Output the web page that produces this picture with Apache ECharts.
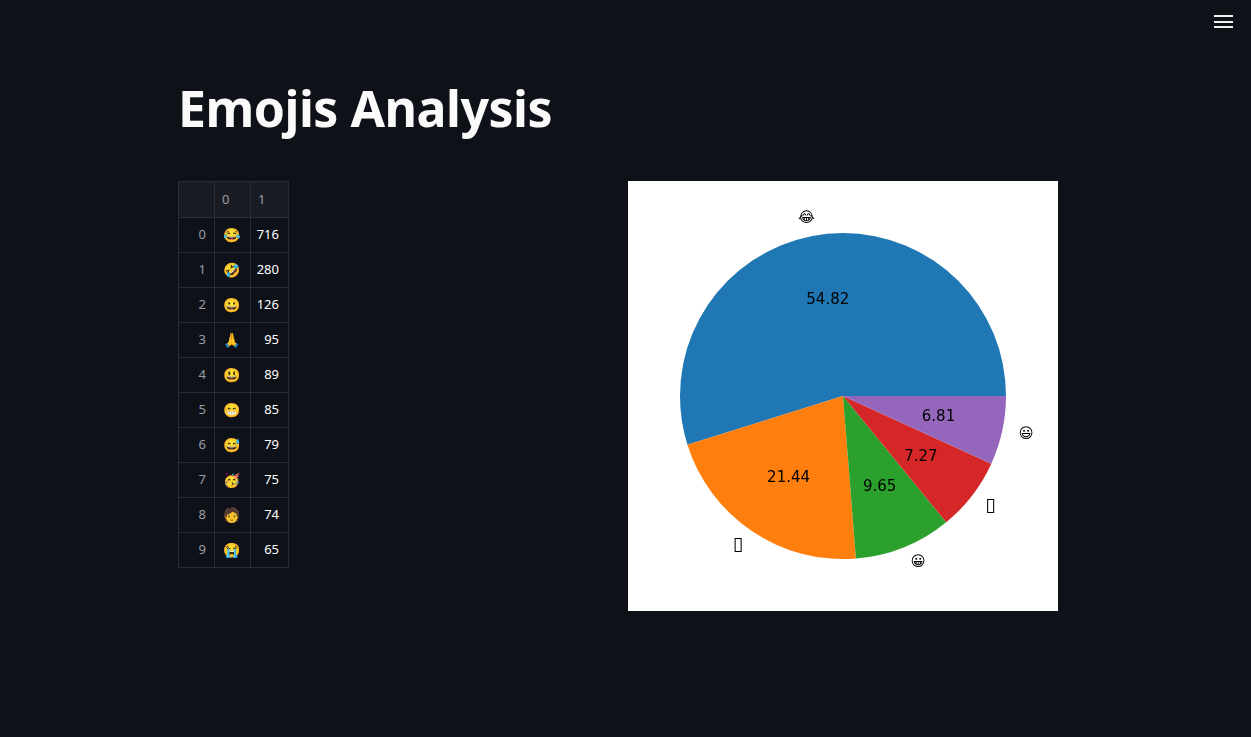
<!DOCTYPE html>
<html><head><meta charset="utf-8">
<script src="https://cdn.jsdelivr.net/npm/echarts@6/dist/echarts.min.js"></script>
<style>
html,body{margin:0;padding:0;background:#0e1117;width:1251px;height:737px;overflow:hidden}
h1{position:absolute;left:178px;top:72px;margin:0;color:#fafafa;font:700 50px/72px "Noto Sans",sans-serif;letter-spacing:-0.5px}
#menu{position:absolute;left:1214px;top:15px;width:19px}
#menu i{display:block;height:2px;background:#f0f0f0;margin-bottom:3.5px}
table{position:absolute;left:178px;top:181px;border-collapse:collapse;table-layout:fixed;width:110px;font:13px "Noto Sans","DejaVu Sans",sans-serif}
td,th{border:1px solid #2a2c33;padding:0;height:35px;box-sizing:border-box;font-weight:400}
th{height:36px;background:#1a1c24;color:#9a9da6;text-align:left;padding-left:7px;padding-bottom:2px}
td.i{color:#9a9da6;text-align:right;padding-right:8px;padding-bottom:3px}
td.e{text-align:center;font-size:14px;font-family:"Noto Color Emoji",sans-serif;padding-bottom:1px}
td.v{color:#fff;text-align:right;padding-right:9px;padding-bottom:3px}
#pie{position:absolute;left:628px;top:181px;width:430px;height:430px;background:#fff}
</style></head><body>
<h1>Emojis Analysis</h1>
<div id="menu"><i></i><i></i><i></i></div>
<table id="t"></table>
<div id="pie"></div>
<script>
const headers = ['', '0', '1'];
const emojis = ['😂','🤣','😀','🙏','😃','😁','😅','🥳','🧑','😭'];
const counts = [716,280,126,95,89,85,79,75,74,65];
const pieLabels = ['😂','▯','😀','▯','😃'];
const pieValues = [716,280,126,95,89];
const pieColors = ['#1f77b4','#ff7f0e','#2ca02c','#d62728','#9467bd'];
const innerOffsets = [[0,4],[2,-1],[-1,-2],[-2,0],[-3,0]];
const outerOffsets = [[-9,2],[-3,-2],[7,-3],[3,-1],[5,0]];

const t = document.getElementById('t');
let html = '<colgroup><col style="width:36px"><col style="width:36px"><col style="width:38px"></colgroup><tr>' + headers.map(h=>'<th>'+h+'</th>').join('') + '</tr>';
emojis.forEach((e,i)=>{ html += `<tr><td class="i">${i}</td><td class="e">${e}</td><td class="v">${counts[i]}</td></tr>`; });
t.innerHTML = html;

const chart = echarts.init(document.getElementById('pie'), null, {renderer:'canvas'});
const total = pieValues.reduce((a,b)=>a+b,0);
const R = 163;
const base = {type:'pie', center:[215,215], startAngle:0, clockwise:false, silent:true, animation:false, labelLine:{show:false}, minShowLabelAngle:0};
chart.setOption({
  backgroundColor:'#fff',
  series:[
    Object.assign({}, base, {radius:[0,R], label:{show:false},
      data:pieValues.map((v,i)=>({name:pieLabels[i], value:v, itemStyle:{color:pieColors[i]}}))}),
    Object.assign({}, base, {radius:[0,R*1.2], itemStyle:{color:'transparent'},
      data:pieValues.map((v,i)=>({name:pieLabels[i], value:v,
        label:{show:true, position:'inside', rotate:0, color:'#000', fontSize:15, fontFamily:'DejaVu Sans', offset:innerOffsets[i],
          formatter:p=>(p.value/total*100).toFixed(2)}}))}),
    Object.assign({}, base, {radius:[0,R*2.2], itemStyle:{color:'transparent'},
      data:pieValues.map((v,i)=>({name:pieLabels[i], value:v,
        label:{show:true, position:'inside', rotate:0, color:'#000', fontSize:pieLabels[i]==='▯'?19:14.5, fontFamily:'DejaVu Sans', offset:outerOffsets[i], formatter:'{b}'}}))})
  ]
});
</script>
</body></html>
